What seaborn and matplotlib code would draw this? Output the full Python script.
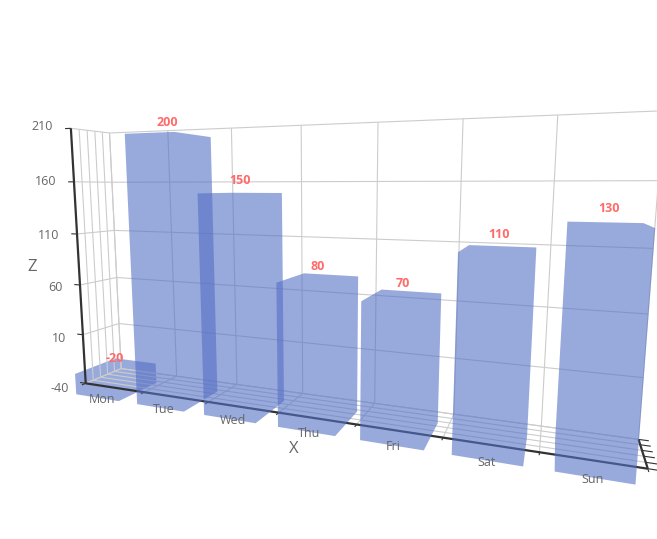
import numpy as np
import matplotlib
matplotlib.use("Agg")
import matplotlib.pyplot as plt
import seaborn as sns
from mpl_toolkits.mplot3d import proj3d
from mpl_toolkits.mplot3d.art3d import Poly3DCollection

days = ["Mon", "Tue", "Wed", "Thu", "Fri", "Sat", "Sun"]
values = [-20, 200, 150, 80, 70, 110, 130]
z_ticks = [-40, 10, 60, 110, 160, 210]
y_ticks = [0, 1, 2, 3, 4, 5]

BAR = "#5470c6"
GRID = "#cccccc"
AXIS = "#333333"
TEXT = "#666666"
LABEL = "#ff6b6b"

sns.set_theme(style="white")
plt.rcParams["font.family"] = ["Open Sans", "DejaVu Sans"]

fig = plt.figure(figsize=(6.57, 5.39), dpi=100)
ax = fig.add_axes([0, 0, 1, 1], projection="3d")
ax.set_xlim(0, 7)
ax.set_ylim(0, 5)
ax.set_zlim(-40, 210)
ax.set_axis_off()
ax.view_init(elev=7.93, azim=-68.84, roll=-0.03)
ax.set_proj_type("persp", focal_length=0.1729)
ax.set_box_aspect((2.003, 0.208, 1))

# put the box where it sits in the 657x539 frame
scale, center_x, center_y = 3416.97, 327.85, 269.15
view = ax.viewLim
size = scale * view.width
left = center_x - (0 - view.x0) / view.width * size
bottom = 539 - center_y - (0 - view.y0) / view.height * size
ax.set_position([left / 657, bottom / 539, size / 657, size / 539])
M = ax.get_proj()


def line(a, b, color=GRID, lw=0.8):
    ax.plot(*zip(a, b), color=color, lw=lw, clip_on=False, solid_capstyle="butt")


def label(x, y, z, text, **kwargs):
    # text sits flat on the screen at the projected point
    xp, yp, _ = proj3d.proj_transform(x, y, z, M)
    ax.text2D(xp, yp, text, transform=ax.transData, clip_on=False, zorder=20, **kwargs)


def outline(corners):
    # convex hull of the projected corners, so each bar is one flat shape
    xp, yp, _ = proj3d.proj_transform(corners[:, 0], corners[:, 1], corners[:, 2], M)

    def half(order):
        kept = []
        for k in order:
            while len(kept) > 1:
                a, b = kept[-2], kept[-1]
                cross = (xp[b] - xp[a]) * (yp[k] - yp[a]) - (yp[b] - yp[a]) * (xp[k] - xp[a])
                if cross > 0:
                    break
                kept.pop()
            kept.append(k)
        return kept[:-1]

    order = np.lexsort((yp, xp))
    return corners[half(order) + half(order[::-1])]


# walls and floor
z_min, z_max = z_ticks[0], z_ticks[-1]
for i in range(len(days) + 1):
    line((i, 5, z_min), (i, 5, z_max))
    line((i, 0, z_min), (i, 5, z_min))
for y in y_ticks:
    line((0, y, z_min), (7, y, z_min))
    line((0, y, z_min), (0, y, z_max))
for z in z_ticks:
    line((0, 5, z), (7, 5, z))
    line((0, 0, z), (0, 5, z))

# axis lines and ticks
line((0, 0, z_min), (7, 0, z_min), AXIS, 1.6)
line((0, 0, z_min), (0, 0, z_max), AXIS, 1.6)
line((7, 0, z_min), (7, 5, z_min), AXIS, 1.6)
for z in z_ticks:
    line((0, 0, z), (-0.1, 0, z), AXIS, 0.8)
for y in y_ticks:
    line((7, y, z_min), (7.1, y, z_min), AXIS, 0.8)
for i in range(len(days) + 1):
    line((i, 0, z_min), (i, -0.5, z_min), AXIS, 0.8)

# bars run from the floor up to the value, and stick out in front of the x axis
for i, v in enumerate(values):
    center = 0.56 + 0.99 * i
    corners = np.array(
        [(x, y, z) for x in (center - 0.35, center + 0.35) for y in (-2.7, 2.6) for z in (z_min, v)], float
    )
    ax.add_collection3d(
        Poly3DCollection([outline(corners)], facecolor=BAR, edgecolor="none", alpha=0.6, clip_on=False)
    )
    label(center, -0.2, v + 11, str(v), color=LABEL, fontsize=9, fontweight="bold", ha="center", va="center")
    label(i + 0.5, -1.7, z_min - 6, days[i], color=TEXT, fontsize=9, ha="center", va="center")

for z in z_ticks:
    label(-0.04, -1.8, z, str(z), color=TEXT, fontsize=9, ha="right", va="center")

label(3.5, -4.5, z_min - 7, "X", color=TEXT, fontsize=12, ha="center", va="center")
label(-0.6, -1.5, 78, "Z", color=TEXT, fontsize=12, ha="center", va="center")

fig.savefig("out.png", dpi=100)
